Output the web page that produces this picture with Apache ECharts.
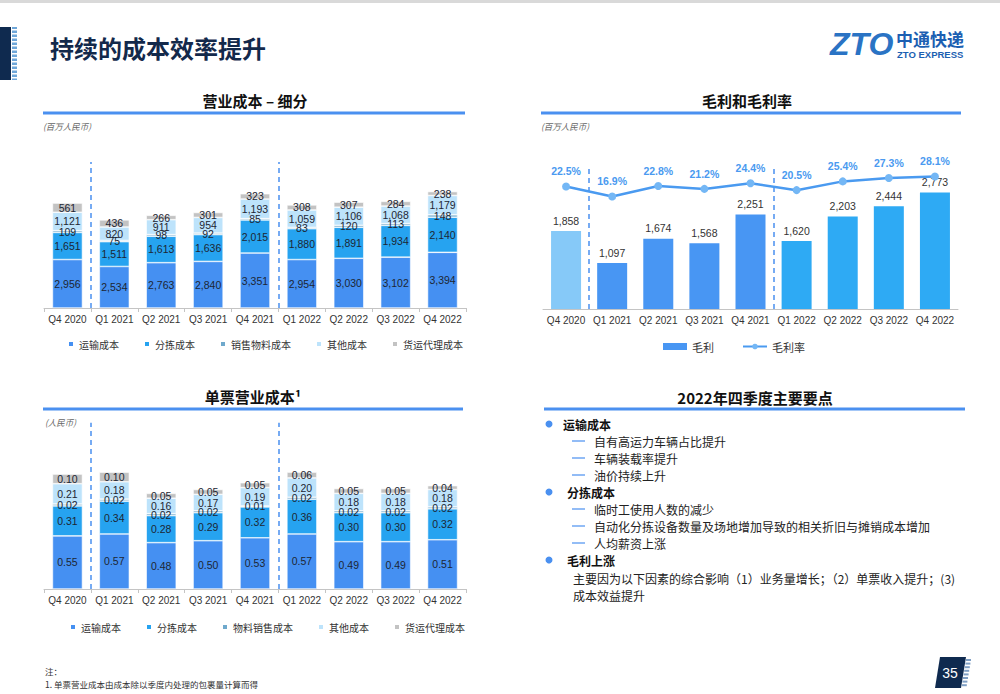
<!DOCTYPE html>
<html>
<head>
<meta charset="utf-8">
<script src="https://cdn.jsdelivr.net/npm/echarts@6/dist/echarts.min.js"></script>
<style>
html, body { margin: 0; padding: 0; background: #fff; }
#main { width: 1000px; height: 694px; }
</style>
</head>
<body>
<div id="main"></div>
<script>
// quarters shared by all three charts
var quarters = ['Q4 2020', 'Q1 2021', 'Q2 2021', 'Q3 2021', 'Q4 2021', 'Q1 2022', 'Q2 2022', 'Q3 2022', 'Q4 2022']

// 营业成本 - 细分 (百万人民币)
var costTransport = [2956, 2534, 2763, 2840, 3351, 2954, 3030, 3102, 3394]
var costSorting = [1651, 1511, 1613, 1636, 2015, 1880, 1891, 1934, 2140]
var costMaterial = [109, 75, 98, 92, 85, 83, 120, 113, 148]
var costOther = [1121, 820, 911, 954, 1193, 1059, 1106, 1068, 1179]
var costFreight = [561, 436, 266, 301, 323, 308, 307, 284, 238]

// 毛利 (百万人民币) and 毛利率 (%)
var grossProfit = [1858, 1097, 1674, 1568, 2251, 1620, 2203, 2444, 2773]
var grossMargin = [22.5, 16.9, 22.8, 21.2, 24.4, 20.5, 25.4, 27.3, 28.1]

// 单票营业成本 (人民币)
var unitTransport = [0.55, 0.57, 0.48, 0.50, 0.53, 0.57, 0.49, 0.49, 0.51]
var unitSorting = [0.31, 0.34, 0.28, 0.29, 0.32, 0.36, 0.30, 0.30, 0.32]
var unitMaterial = [0.02, 0.02, 0.02, 0.02, 0.01, 0.02, 0.02, 0.02, 0.02]
var unitOther = [0.21, 0.18, 0.16, 0.17, 0.19, 0.20, 0.18, 0.18, 0.18]
var unitFreight = [0.10, 0.10, 0.05, 0.05, 0.05, 0.06, 0.05, 0.05, 0.04]

// year dividers sit between these category indexes
var dividerPos = [0.5, 4.5]

// text panel
var panelTitle = '2022年四季度主要要点'
var panelPoints = [
	{ head: '运输成本', items: ['自有高运力车辆占比提升', '车辆装载率提升', '油价持续上升'] },
	{ head: '分拣成本', items: ['临时工使用人数的减少', '自动化分拣设备数量及场地增加导致的相关折旧与摊销成本增加', '人均薪资上涨'] },
	{ head: '毛利上涨', text: ['主要因为以下因素的综合影响（1）业务量增长；（2）单票收入提升；(3)', '成本效益提升'] }
]

var FONT = '"Liberation Sans", "Noto Sans CJK SC", sans-serif'
var CJK = '"Noto Sans CJK SC", sans-serif'
var BLUE = '#4a90f0'
var C_TRANS = '#4590f2'
var C_SORT = '#26a3f0'
var C_MAT = '#6fa9cc'
var C_OTHER = '#bde3fb'
var C_FREIGHT = '#c3c3c3'

function fmtThousands(p) {
	return p.value.toLocaleString('en-US')
}
function fmtUnit(p) {
	return p.value.toFixed(2)
}

function stackSeries(name, data, color, yIdx, xIdx, stack, fmt) {
	return {
		name: name,
		type: 'bar',
		stack: stack,
		xAxisIndex: xIdx,
		yAxisIndex: yIdx,
		barWidth: 30,
		data: data,
		itemStyle: { color: color, borderColor: '#fff', borderWidth: 0.6 },
		label: {
			show: true,
			position: 'inside',
			fontSize: 10.5,
			fontFamily: FONT,
			color: '#1d2633',
			formatter: fmt
		}
	}
}

function dividerSeries(xIdx, yIdx, top) {
	return {
		type: 'line',
		xAxisIndex: xIdx,
		yAxisIndex: yIdx,
		data: [],
		silent: true,
		markLine: {
			silent: true,
			symbol: ['none', 'none'],
			label: { show: false },
			lineStyle: { type: [5, 4], color: BLUE, width: 1.5 },
			data: dividerPos.map(function (p) {
				return [{ coord: [p, 0] }, { coord: [p, top] }]
			})
		}
	}
}

function catAxis(g, ticks) {
	return {
		type: 'category',
		gridIndex: g,
		data: quarters,
		axisLine: { lineStyle: { color: '#c4c4c4' } },
		axisTick: { show: ticks, length: 4, lineStyle: { color: '#c4c4c4' } },
		axisLabel: { color: '#333', fontSize: 10, fontFamily: FONT, margin: 6, interval: 0 }
	}
}

function valXAxis(g) {
	return { type: 'value', gridIndex: g, min: -0.5, max: 8.5, show: false }
}

function valYAxis(g, min, max) {
	return { type: 'value', gridIndex: g, min: min, max: max, show: false }
}

// gross profit bar colours by year
var profitData = grossProfit.map(function (v, i) {
	var c = i === 0 ? '#86c9f8' : (i <= 4 ? '#4896f3' : '#2eaaf4')
	return { value: v, itemStyle: { color: c } }
})

// ---------- graphic (titles, decoration, text panel) ----------
function txt(x, y, text, size, extra) {
	return {
		type: 'text',
		x: x,
		y: y,
		silent: true,
		style: Object.assign({
			text: text,
			fill: '#222',
			fontSize: size,
			fontFamily: CJK,
			align: 'left',
			verticalAlign: 'middle'
		}, extra || {})
	}
}
function hline(x1, x2, y, color, w) {
	return { type: 'line', silent: true, shape: { x1: x1, y1: y, x2: x2, y2: y }, style: { stroke: color, lineWidth: w } }
}

var graphics = []
// top grey band
graphics.push({ type: 'rect', shape: { x: 0, y: 0, width: 1000, height: 3 }, style: { fill: '#d9d9d9' } })
// left header decoration
graphics.push({ type: 'rect', shape: { x: 0, y: 27, width: 11, height: 53 }, style: { fill: '#0f2a4f' } })
graphics.push({ type: 'rect', shape: { x: 12, y: 27, width: 5, height: 53 }, style: { fill: '#6ea6d8' } })
for (var s = 0; s < 13; s++) {
	graphics.push({ type: 'rect', shape: { x: 12, y: 29 + s * 4, width: 5, height: 1.5 }, style: { fill: '#ffffff' } })
}
// main title
graphics.push(txt(50, 47, '持续的成本效率提升', 24, { fill: '#13294b', fontWeight: 'bold' }))
// logo
graphics.push(txt(830, 44, 'ZTO', 32, { fill: '#2a73c4', fontWeight: 'bold', fontStyle: 'italic', fontFamily: FONT }))
graphics.push(txt(896, 38, '中通快递', 17, { fill: '#1c5fb2', fontWeight: 'bold' }))
graphics.push(txt(897, 54, 'ZTO EXPRESS', 9.5, { fill: '#1c5fb2', fontWeight: 'bold', fontFamily: FONT }))

// section titles and rules
graphics.push(txt(255, 100, '营业成本 – 细分', 15, { fontWeight: 'bold', align: 'center', fill: '#111' }))
graphics.push(hline(43, 465, 113, BLUE, 3))
graphics.push(txt(43, 126, '(百万人民币)', 8.5, { fontStyle: 'italic', fill: '#666' }))

graphics.push(txt(747, 100, '毛利和毛利率', 15, { fontWeight: 'bold', align: 'center', fill: '#111' }))
graphics.push(hline(541, 961, 113, BLUE, 3))
graphics.push(txt(541, 126, '(百万人民币)', 8.5, { fontStyle: 'italic', fill: '#666' }))

graphics.push(txt(253, 396, '单票营业成本¹', 15, { fontWeight: 'bold', align: 'center', fill: '#111' }))
graphics.push(hline(43, 463, 409, BLUE, 3))
graphics.push(txt(45, 422, '(人民币)', 8.5, { fontStyle: 'italic', fill: '#666' }))

graphics.push(txt(755, 397, panelTitle, 15, { fontWeight: 'bold', align: 'center', fill: '#111' }))
graphics.push(hline(544, 965, 409, BLUE, 3))

// text panel body
var py = 424
panelPoints.forEach(function (pt, k) {
	graphics.push({ type: 'circle', silent: true, shape: { cx: 549, cy: py, r: 3.5 }, style: { fill: BLUE } })
	graphics.push(txt(k === 0 ? 563 : 567, py, pt.head, 12, { fontWeight: 'bold', fill: '#111' }))
	py += 17
	;(pt.items || []).forEach(function (it) {
		graphics.push(hline(572, 585, py, BLUE, 1.2))
		graphics.push(txt(594, py, it, 12, { fill: '#222' }))
		py += 17
	})
	;(pt.text || []).forEach(function (line) {
		graphics.push(txt(573, py + 1, line, 12, { fill: '#222' }))
		py += 17
	})
})

// footer note
graphics.push(txt(45, 671, '注：', 8.5, { fill: '#333' }))
graphics.push(txt(45, 684, '1. 单票营业成本由成本除以季度内处理的包裹量计算而得', 8.5, { fill: '#333' }))
// page number
graphics.push({ type: 'polygon', silent: true, shape: { points: [[940, 657], [966, 657], [961, 688], [935, 688]] }, style: { fill: '#0f2a4f' } })
graphics.push(txt(950, 673, '35', 14, { fill: '#fff', align: 'center', fontFamily: FONT }))
for (var t = 0; t < 8; t++) {
	graphics.push({ type: 'rect', silent: true, shape: { x: 966 - t * 0.6, y: 659 + t * 3.6, width: 5, height: 2 }, style: { fill: '#7f9fc4' } })
}

var option = {
	animation: false,
	textStyle: { fontFamily: FONT },
	grid: [
		{ left: 44, width: 422, top: 144, height: 164 },
		{ left: 543, width: 415, top: 141, height: 168 },
		{ left: 44, width: 422, top: 419, height: 170 }
	],
	xAxis: [
		catAxis(0, true), valXAxis(0),
		catAxis(1, false), valXAxis(1),
		catAxis(2, true), valXAxis(2)
	],
	yAxis: [
		valYAxis(0, 0, 10000),
		valYAxis(1, 0, 4000),
		valYAxis(1, -46, 48),
		valYAxis(2, 0, 1.76)
	],
	legend: [
		{
			data: ['运输成本', '分拣成本', '销售物料成本', '其他成本', '货运代理成本'],
			left: 62, top: 334, icon: 'rect', itemWidth: 6, itemHeight: 6, itemGap: 24,
			selectedMode: false,
			textStyle: { fontSize: 10, color: '#333', fontFamily: CJK }
		},
		{
			data: [{ name: '毛利', icon: 'rect' }, { name: '毛利率' }],
			left: 658, top: 336, itemWidth: 24, itemHeight: 7, itemGap: 28,
			selectedMode: false,
			textStyle: { fontSize: 11, color: '#333', fontFamily: CJK }
		},
		{
			data: ['运输成本', '分拣成本', '物料销售成本', '其他成本', '货运代理成本'],
			left: 64, top: 617, icon: 'rect', itemWidth: 6, itemHeight: 6, itemGap: 24,
			selectedMode: false,
			textStyle: { fontSize: 10, color: '#333', fontFamily: CJK }
		}
	],
	graphic: { elements: graphics },
	series: [
		// chart 1: 营业成本 - 细分
		stackSeries('运输成本', costTransport, C_TRANS, 0, 0, 'c1', fmtThousands),
		stackSeries('分拣成本', costSorting, C_SORT, 0, 0, 'c1', fmtThousands),
		stackSeries('销售物料成本', costMaterial, C_MAT, 0, 0, 'c1', fmtThousands),
		stackSeries('其他成本', costOther, C_OTHER, 0, 0, 'c1', fmtThousands),
		stackSeries('货运代理成本', costFreight, C_FREIGHT, 0, 0, 'c1', fmtThousands),
		dividerSeries(1, 0, 8900),

		// chart 2: 毛利和毛利率
		{
			name: '毛利',
			type: 'bar',
			xAxisIndex: 2,
			yAxisIndex: 1,
			barWidth: 30,
			data: profitData,
			itemStyle: { color: '#4896f3' },
			label: { show: true, position: 'top', distance: 5, fontSize: 10.5, color: '#333', formatter: fmtThousands }
		},
		{
			name: '毛利率',
			type: 'line',
			xAxisIndex: 2,
			yAxisIndex: 2,
			data: grossMargin,
			symbol: 'circle',
			symbolSize: 8,
			z: 5,
			lineStyle: { color: '#4a9af0', width: 2.5 },
			itemStyle: { color: '#74b7f5' },
			label: {
				show: true,
				position: 'top',
				distance: 6,
				fontSize: 10.5,
				fontWeight: 'bold',
				color: '#4a9af0',
				formatter: function (p) { return p.value.toFixed(1) + '%' }
			}
		},
		dividerSeries(3, 1, 3380),

		// chart 3: 单票营业成本
		stackSeries('运输成本', unitTransport, C_TRANS, 3, 4, 'c3', fmtUnit),
		stackSeries('分拣成本', unitSorting, C_SORT, 3, 4, 'c3', fmtUnit),
		stackSeries('物料销售成本', unitMaterial, C_MAT, 3, 4, 'c3', fmtUnit),
		stackSeries('其他成本', unitOther, C_OTHER, 3, 4, 'c3', fmtUnit),
		stackSeries('货运代理成本', unitFreight, C_FREIGHT, 3, 4, 'c3', fmtUnit),
		dividerSeries(5, 3, 1.72)
	]
}

var myChart = echarts.init(document.getElementById('main'), null, { renderer: 'svg' })
myChart.setOption(option)
</script>
</body>
</html>
